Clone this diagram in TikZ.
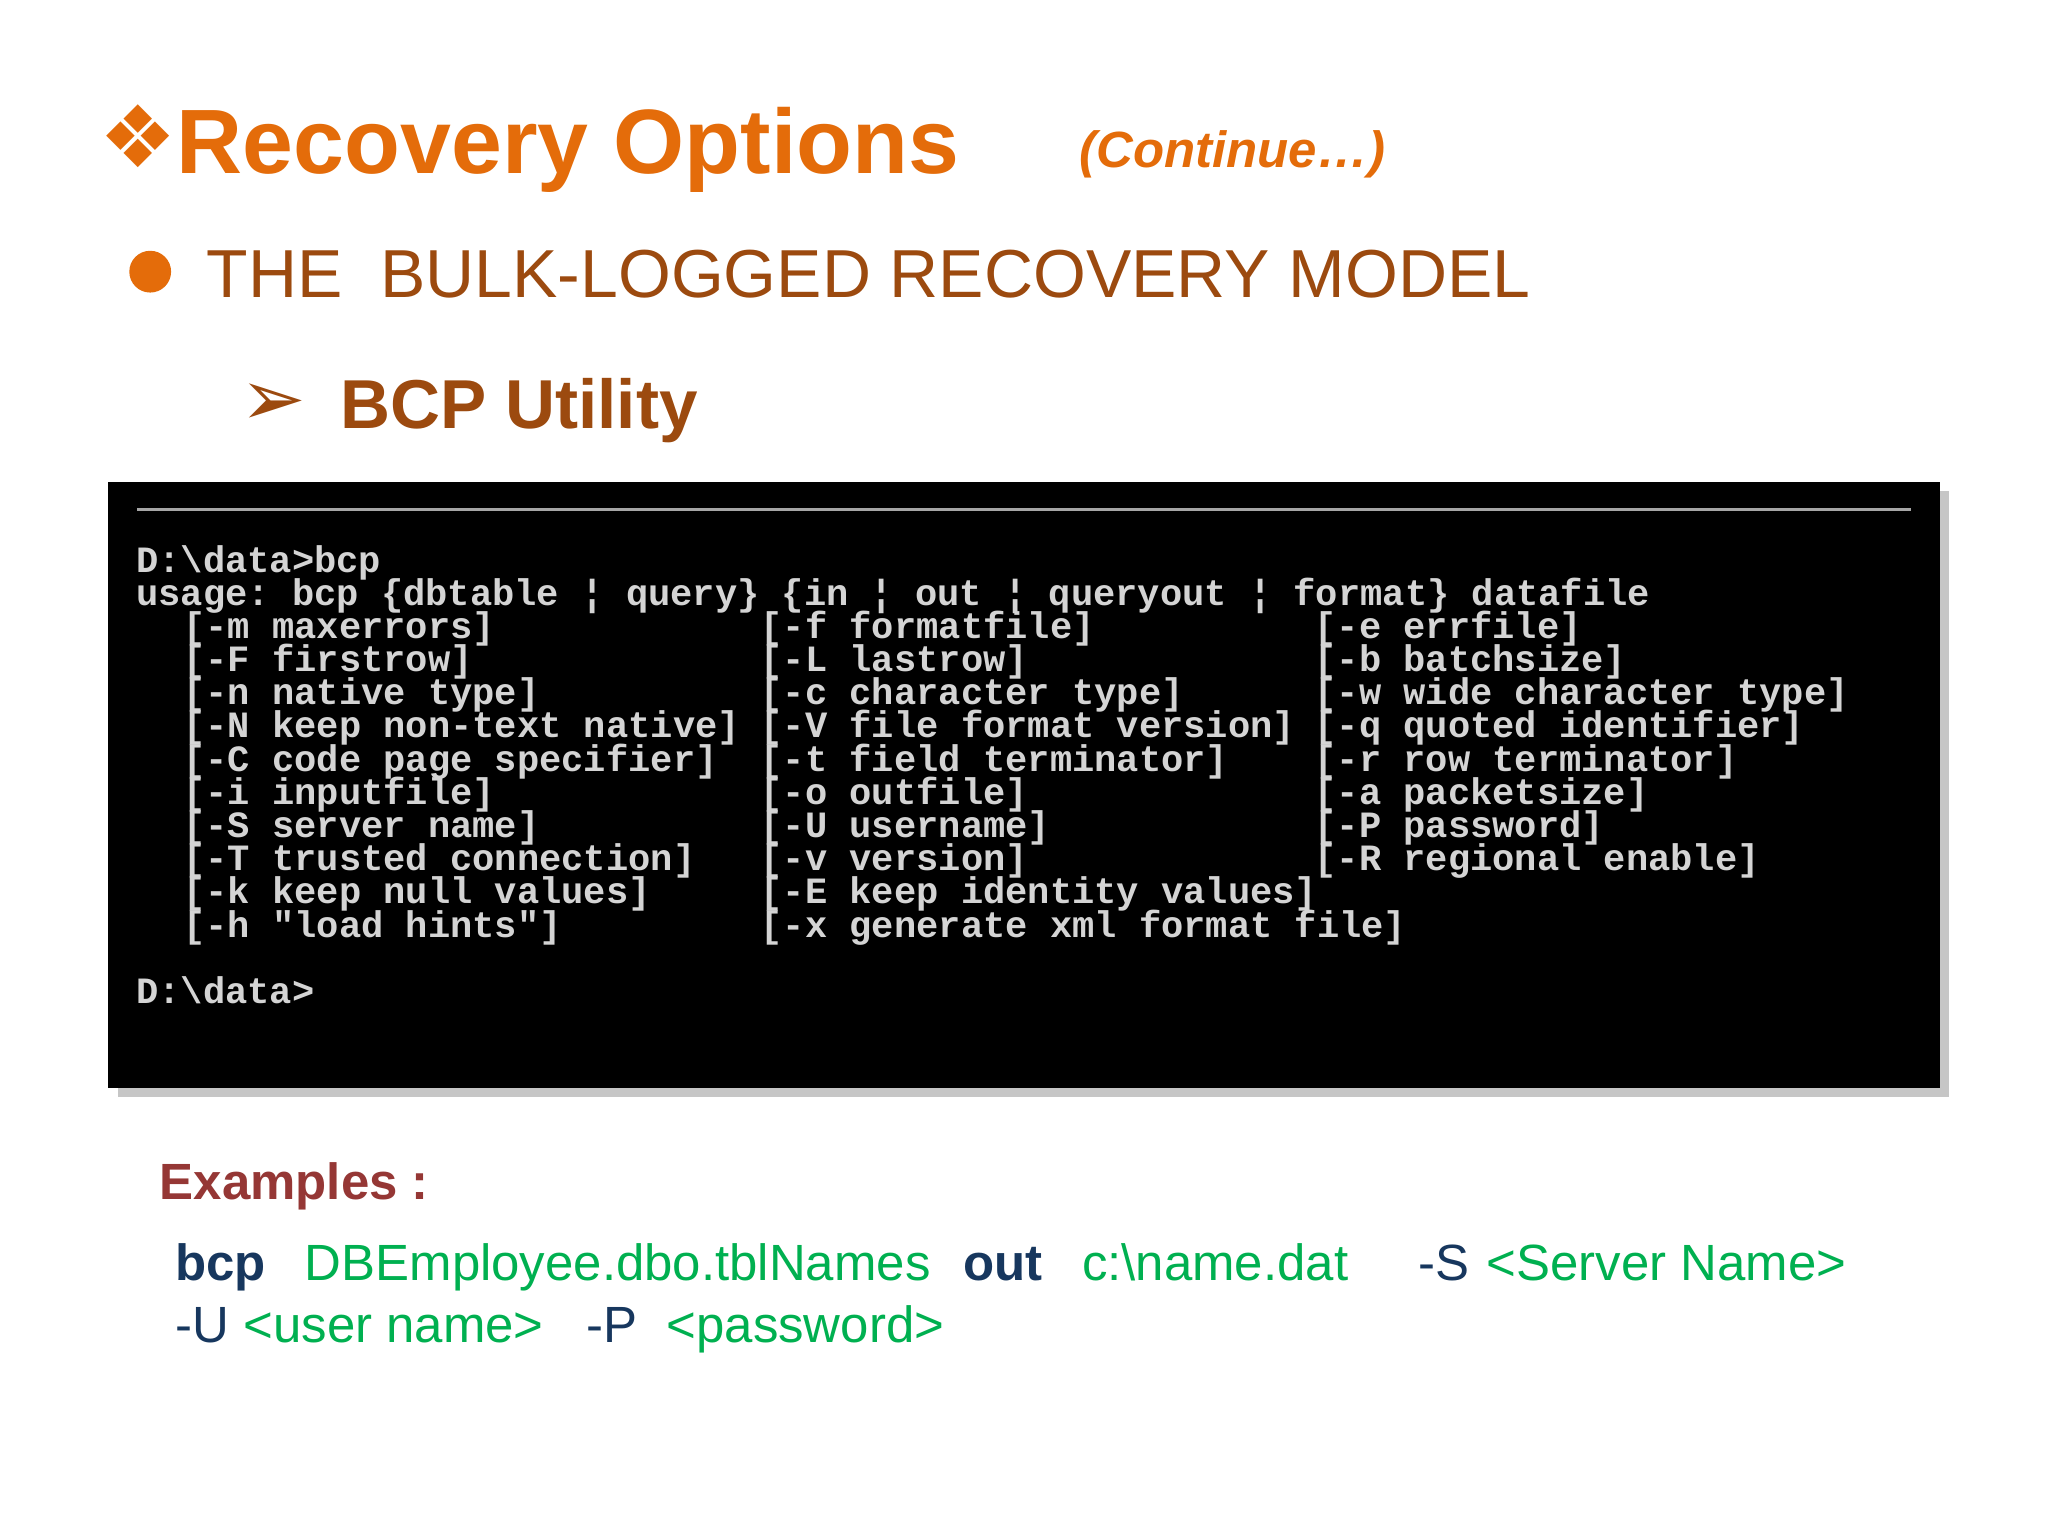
\documentclass[tikz,border=0pt]{standalone}
\usepackage{fontspec}
\setmainfont{Liberation Sans}
\setmonofont{Liberation Mono}
\newfontfamily\symfont{DejaVu Sans}
\definecolor{orng}{HTML}{E46C0A}
\definecolor{brwn}{HTML}{9C4A0F}
\definecolor{exred}{HTML}{953735}
\definecolor{navy}{HTML}{17375E}
\definecolor{grn}{HTML}{00B050}
\definecolor{term}{HTML}{D4D4D4}
\begin{document}
\begin{tikzpicture}[x=0.5pt,y=-0.5pt,
  txt/.style={anchor=base west,inner sep=0pt},
  tt/.style={txt,text=term,font=\fontsize{14.2}{15}\selectfont\ttfamily\bfseries}]
\useasboundingbox[fill=white] (0,0) rectangle (1568,1176);
% title
\node[txt,text=orng,font=\fontsize{33}{36}\selectfont\symfont] (dia) at (76,128) {❖};
\node[txt,text=orng,font=\fontsize{35}{40}\selectfont\bfseries] (title) at (135,133) {Recovery Options};
\node[txt,text=orng,font=\fontsize{19.5}{22}\selectfont\bfseries\itshape] (cont) at (826,128) {(Continue…)};
\fill[orng] (115,208) circle (16) coordinate (bul);
\node[txt,text=brwn,font=\fontsize{26}{30}\selectfont] (model) at (158,228) {THE\ \ BULK-LOGGED RECOVERY MODEL};
\node[txt,text=brwn,font=\fontsize{30}{32}\selectfont\symfont] (arr) at (184,326) {➢};
\node[txt,text=brwn,font=\fontsize{26.5}{30}\selectfont\bfseries] (bcpu) at (260,328) {BCP Utility};
% terminal
\fill[gray!45] (90,376) rectangle (1492,840);
\fill[black] (83,369) rectangle (1485,833) coordinate (box);
\draw[gray!70,line width=1pt] (105,390) -- (1463,390);
\def\ly#1{438+25.4*#1}
\node[tt] (l0) at (104,{\ly{0}}) {D:\textbackslash data>bcp};
\node[tt] (l1) at (104,{\ly{1}}) {usage: bcp \{dbtable ¦ query\} \{in ¦ out ¦ queryout ¦ format\} datafile};
\foreach \i/\a/\b/\c in {
 2/{[-m maxerrors]}/{[-f formatfile]}/{[-e errfile]},
 3/{[-F firstrow]}/{[-L lastrow]}/{[-b batchsize]},
 4/{[-n native type]}/{[-c character type]}/{[-w wide character type]},
 5/{[-N keep non-text native]}/{[-V file format version]}/{[-q quoted identifier]},
 6/{[-C code page specifier]}/{[-t field terminator]}/{[-r row terminator]},
 7/{[-i inputfile]}/{[-o outfile]}/{[-a packetsize]},
 8/{[-S server name]}/{[-U username]}/{[-P password]},
 9/{[-T trusted connection]}/{[-v version]}/{[-R regional enable]},
 10/{[-k keep null values]}/{[-E keep identity values]}/{},
 11/{[-h "load hints"]}/{[-x generate xml format file]}/{}}{
  \node[tt] (a\i) at (140,{\ly{\i}}) {\a};
  \node[tt] (b\i) at (582,{\ly{\i}}) {\b};
  \node[tt] (c\i) at (1006,{\ly{\i}}) {\c};
}
\node[tt] (l13) at (104,{\ly{13}}) {D:\textbackslash data>};
% examples
\node[txt,text=exred,font=\fontsize{19.5}{22}\selectfont\bfseries] (ex) at (122,918) {Examples :};
\begin{scope}[every node/.style={txt,font=\fontsize{19.5}{22}\selectfont}]
\node[text=navy,font=\fontsize{19.5}{22}\selectfont\bfseries] (e1) at (134,980) {bcp};
\node[text=grn] (e2) at (233,980) {DBEmployee.dbo.tblNames};
\node[text=navy,font=\fontsize{19.5}{22}\selectfont\bfseries] (e3) at (737,980) {out};
\node[text=grn] (e4) at (828,980) {c:\textbackslash name.dat};
\node[text=navy] (e5) at (1086,980) {-S};
\node[text=grn] (e6) at (1138,980) {<Server Name>};
\node[text=navy] (f1) at (134,1028) {-U};
\node[text=grn] (f2) at (186,1028) {<user name>};
\node[text=navy] (f3) at (449,1028) {-P};
\node[text=grn] (f4) at (510,1028) {<password>};
\end{scope}
\end{tikzpicture}
\end{document}
